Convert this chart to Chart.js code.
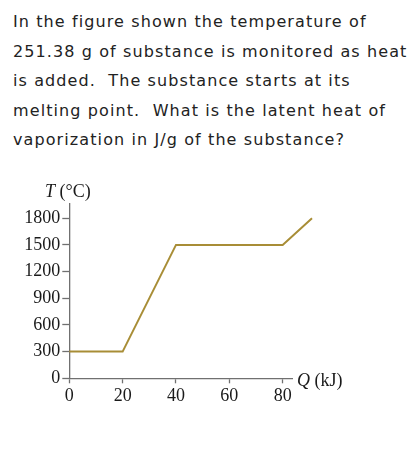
<!DOCTYPE html>
<html>
<head>
<meta charset="utf-8">
<script src="https://cdn.jsdelivr.net/npm/chart.js@4"></script>
<style>
  html, body { margin: 0; padding: 0; background: #fff; width: 415px; height: 469px; overflow: hidden; }
  #q { position: absolute; left: 13px; top: 7px; width: 402px; white-space: nowrap; font-family: "DejaVu Sans", Verdana, sans-serif; font-size: 16px; letter-spacing: 1.1px; line-height: 29.5px; color: #222; }
  #c { position: absolute; left: 0; top: 0; }
</style>
</head>
<body>
<div id="q">In the figure shown the temperature of<br>251.38 g of substance is monitored as heat<br>is added.&nbsp; The substance starts at its<br>melting point.&nbsp; What is the latent heat of<br>vaporization in J/g of the substance?</div>
<canvas id="c" width="415" height="469"></canvas>
<script>
const heatQ = [0, 20, 40, 80, 91];          // Q (kJ)
const tempT = [300, 300, 1500, 1500, 1800];  // T (°C)
const xTicks = [0, 20, 40, 60, 80];
const yTicks = [0, 300, 600, 900, 1200, 1500, 1800];

const axisLabels = {
  id: 'axisLabels',
  afterDraw(chart) {
    const ctx = chart.ctx;
    ctx.save();
    ctx.fillStyle = '#1a1a1a';
    ctx.textBaseline = 'alphabetic';
    ctx.font = 'italic 18px "Liberation Serif"';
    ctx.fillText('T', 45, 197);
    let w = ctx.measureText('T').width;
    ctx.font = '18px "Liberation Serif"';
    ctx.fillText(' (°C)', 45 + w, 197);
    ctx.font = 'italic 18px "Liberation Serif"';
    ctx.fillText('Q', 297, 386);
    w = ctx.measureText('Q').width;
    ctx.font = '18px "Liberation Serif"';
    ctx.fillText(' (kJ)', 297 + w, 386);
    ctx.restore();
  }
};

new Chart(document.getElementById('c'), {
  type: 'line',
  data: {
    datasets: [{
      data: heatQ.map((q, i) => ({ x: q, y: tempT[i] })),
      borderColor: '#a88d36',
      borderWidth: 2,
      pointRadius: 0,
      tension: 0,
      clip: false,
      fill: false
    }]
  },
  options: {
    responsive: false,
    animation: false,
    devicePixelRatio: 1,
    layout: { padding: { left: 0, top: 204, right: 123, bottom: 0 } },
    plugins: { legend: { display: false }, tooltip: { enabled: false } },
    scales: {
      x: {
        type: 'linear',
        min: 0, max: 83.5,
        afterBuildTicks: s => { s.ticks = xTicks.map(v => ({ value: v })); },
        afterFit: s => { s.height = 90.7; },
        border: { display: true, color: '#707070', width: 1.3 },
        grid: { drawOnChartArea: false, drawTicks: true, tickLength: 5, color: '#707070', tickWidth: 1.3 },
        ticks: { color: '#1a1a1a', padding: 2, maxRotation: 0, callback: v => String(v), font: { family: '"Liberation Serif"', size: 18 } }
      },
      y: {
        type: 'linear',
        min: 0, max: 1960,
        afterBuildTicks: s => { s.ticks = yTicks.map(v => ({ value: v })); },
        afterFit: s => { s.width = 69.3; },
        border: { display: true, color: '#707070', width: 1.3 },
        grid: { drawOnChartArea: false, drawTicks: true, tickLength: 7, color: '#707070', tickWidth: 1.3 },
        ticks: { color: '#1a1a1a', padding: 2, callback: v => String(v), font: { family: '"Liberation Serif"', size: 18 } }
      }
    }
  },
  plugins: [axisLabels]
});
</script>
</body>
</html>
